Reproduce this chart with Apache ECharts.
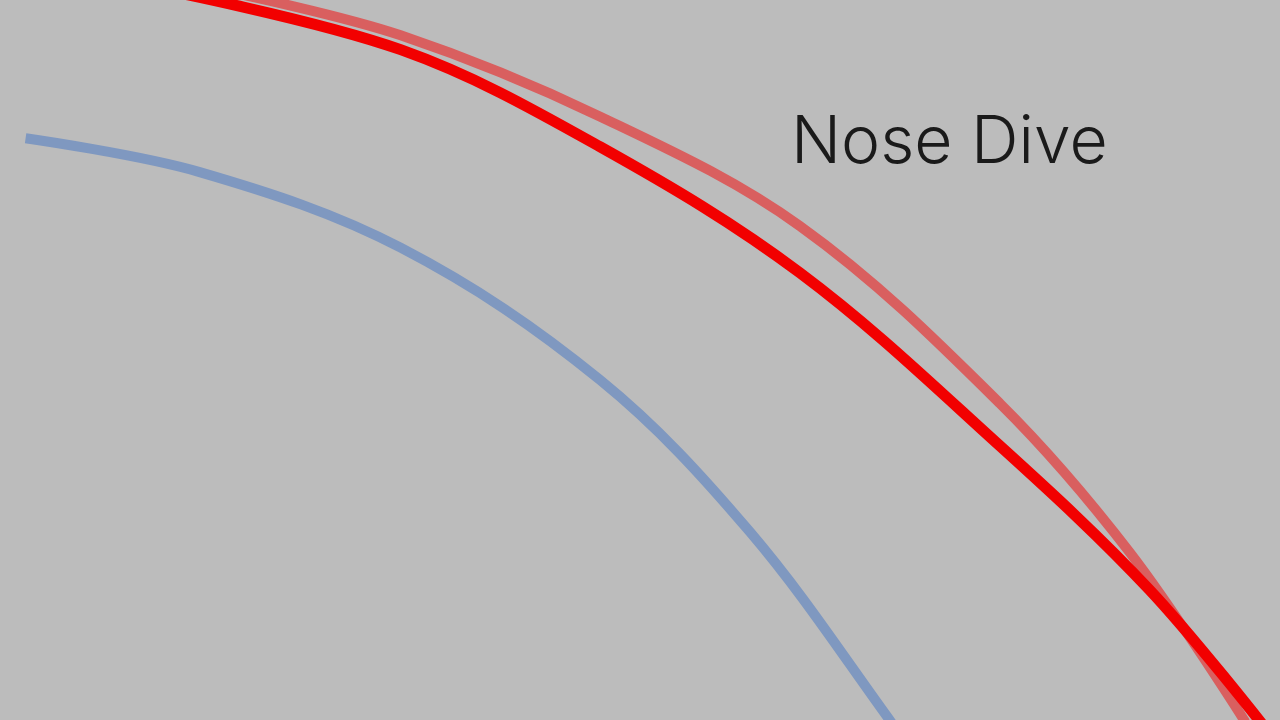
<!DOCTYPE html>
<html>
<head>
<meta charset="utf-8">
<script src="https://cdn.jsdelivr.net/npm/echarts@6/dist/echarts.min.js"></script>
<style>
html, body { margin: 0; padding: 0; background: #bcbcbc; }
#main { width: 1280px; height: 720px; }
</style>
</head>
<body>
<div id="main"></div>
<script>
// blue curve (x, y)
var blueX = [2.0, 15.6, 31.3, 46.9, 58.6, 69.5, 70.7];
var blueY = [80.8, 76.1, 65.6, 47.2, 26.1, 0.0, -3.5];
// faded red curve
var paleX = [18.0, 31.3, 46.9, 62.5, 78.1, 88.3, 97.3];
var paleY = [101.1, 95.1, 83.8, 68.6, 44.0, 23.2, -0.3];
// bright red curve
var redX = [11.7, 31.3, 46.9, 62.5, 78.1, 89.8, 98.8];
var redY = [101.8, 93.1, 79.6, 62.1, 38.1, 18.1, -1.0];

function pairs(xs, ys) {
	var out = [];
	for (var i = 0; i < xs.length; i++) {
		out.push([xs[i], ys[i]]);
	}
	return out;
}

var myChart = echarts.init(document.getElementById('main'));
myChart.setOption({
	backgroundColor: '#bcbcbc',
	animation: false,
	title: {
		text: 'Nose Dive',
		left: 791,
		top: 110,
		padding: 0,
		textStyle: {
			fontFamily: 'Inter',
			fontWeight: 300,
			fontSize: 66,
			color: '#1a1a1a'
		}
	},
	grid: { left: 0, right: 0, top: 0, bottom: 0 },
	xAxis: { type: 'value', min: 0, max: 100, show: false },
	yAxis: { type: 'value', min: 0, max: 100, show: false },
	series: [{
		type: 'line',
		smooth: 0.35,
		showSymbol: false,
		data: pairs(blueX, blueY),
		lineStyle: { color: '#7f98c0', width: 10 }
	}, {
		type: 'line',
		smooth: 0.35,
		showSymbol: false,
		data: pairs(paleX, paleY),
		lineStyle: { color: '#d95f5f', width: 10 }
	}, {
		type: 'line',
		smooth: 0.35,
		showSymbol: false,
		data: pairs(redX, redY),
		lineStyle: { color: '#f20000', width: 11 }
	}]
});
</script>
</body>
</html>
